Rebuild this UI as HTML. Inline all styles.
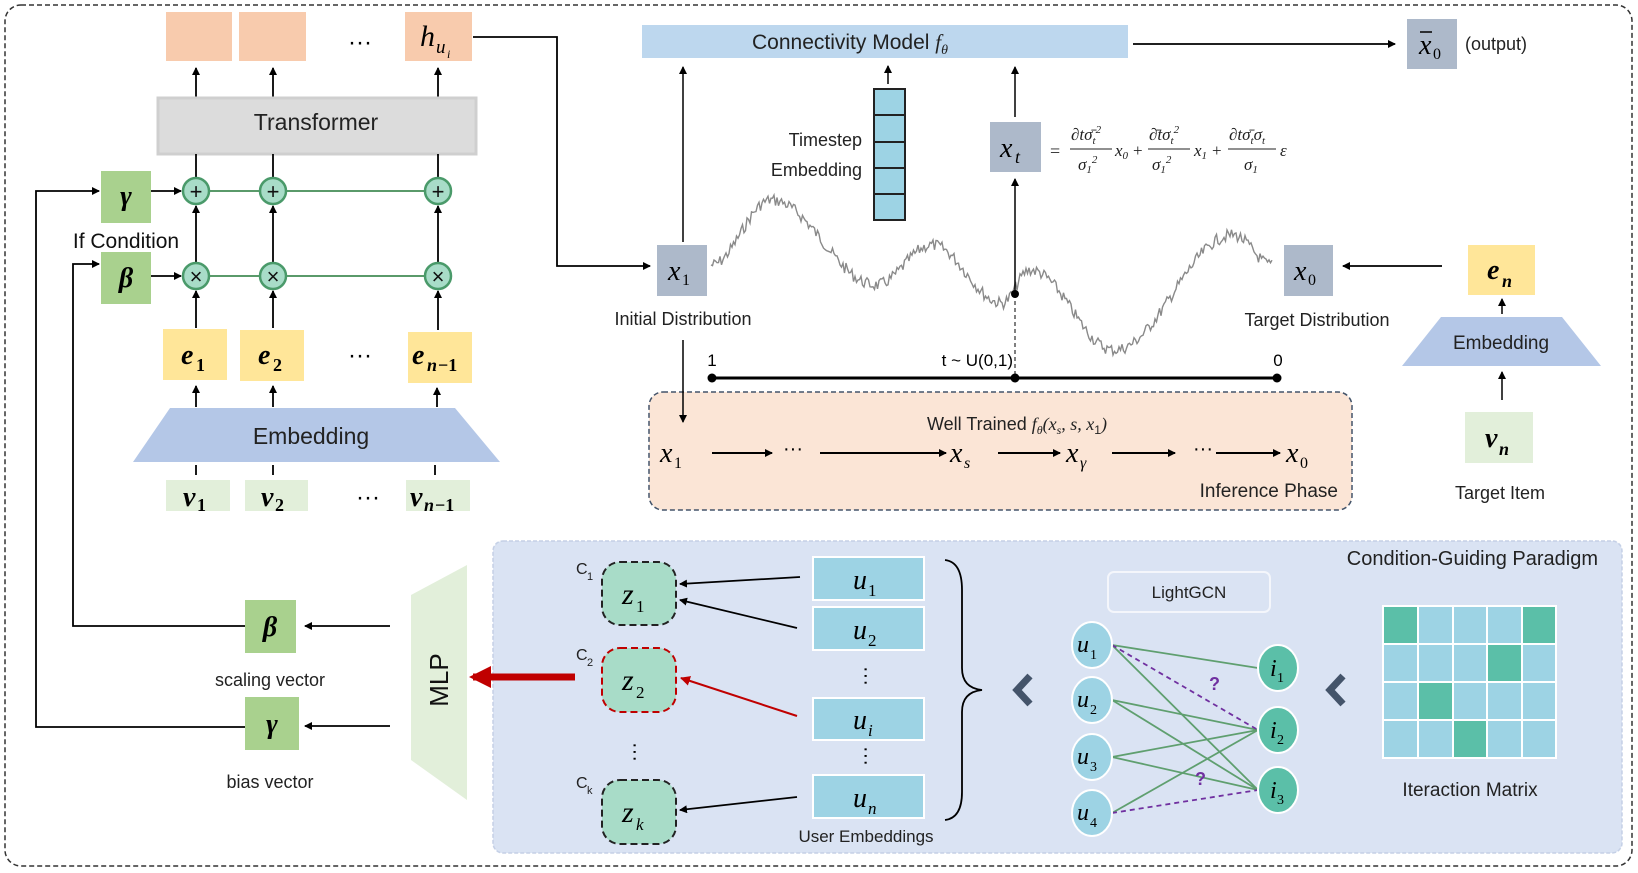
<!DOCTYPE html>
<html><head><meta charset="utf-8">
<style>
html,body{margin:0;padding:0;background:#fff;}
svg{display:block;font-family:"Liberation Sans",sans-serif;}
.m{font-family:"Liberation Serif",serif;font-style:italic;}
.b{font-weight:bold;}
</style></head><body>
<svg width="1638" height="873" viewBox="0 0 1638 873" xmlns="http://www.w3.org/2000/svg">
<defs>
<marker id="a" markerWidth="8" markerHeight="8" refX="7" refY="4" orient="auto" markerUnits="userSpaceOnUse"><path d="M0,0 L8,4 L0,8 z" fill="#000"/></marker>
<marker id="ar" markerWidth="10" markerHeight="10" refX="9" refY="5" orient="auto" markerUnits="userSpaceOnUse"><path d="M0,0 L10,5 L0,10 z" fill="#c00000"/></marker>
<marker id="ab" markerWidth="22" markerHeight="22" refX="18" refY="11" orient="auto" markerUnits="userSpaceOnUse"><path d="M0,0 L22,11 L0,22 z" fill="#c00000"/></marker>
</defs>
<rect x="5" y="5" width="1627" height="861" rx="16" fill="none" stroke="#333" stroke-width="1.5" stroke-dasharray="5,3"/>

<!-- top orange outputs -->
<rect x="166" y="12" width="66" height="49" fill="#f8cbad"/>
<rect x="239" y="12" width="67" height="49" fill="#f8cbad"/>
<text x="360" y="50" font-size="24" text-anchor="middle">···</text>
<rect x="405" y="12" width="67" height="49" fill="#f8cbad"/>
<text x="420" y="46" class="m" font-size="30">h</text><text x="436" y="53" class="m" font-size="19">u</text><text x="447" y="58" class="m" font-size="12">i</text>
<polyline points="473,37 557,37 557,266 650,266" fill="none" stroke="#000" stroke-width="1.8" marker-end="url(#a)"/>
<g stroke="#000" stroke-width="1.8" marker-end="url(#a)">
<line x1="196" y1="97" x2="196" y2="68"/><line x1="273" y1="97" x2="273" y2="68"/><line x1="438" y1="97" x2="438" y2="68"/>
</g>
<rect x="158" y="98" width="318" height="56" fill="#dcdcdc" stroke="#cfcfcf" stroke-width="3"/>
<text x="316" y="130" font-size="23" text-anchor="middle" fill="#222">Transformer</text>

<g stroke="#000" stroke-width="1.8">
<line x1="196" y1="154" x2="196" y2="178"/><line x1="273" y1="154" x2="273" y2="178"/><line x1="438" y1="154" x2="438" y2="178"/>
</g>
<g stroke="#000" stroke-width="1.8" marker-end="url(#a)">
<line x1="196" y1="263" x2="196" y2="206"/><line x1="273" y1="263" x2="273" y2="206"/><line x1="438" y1="263" x2="438" y2="206"/>
<line x1="196" y1="328" x2="196" y2="291"/><line x1="273" y1="328" x2="273" y2="291"/><line x1="438" y1="330" x2="438" y2="291"/>
<line x1="151" y1="191" x2="181" y2="191"/><line x1="151" y1="276" x2="181" y2="276"/>
</g>
<line x1="196" y1="191" x2="438" y2="191" stroke="#5a9a6a" stroke-width="2"/>
<line x1="196" y1="276" x2="438" y2="276" stroke="#5a9a6a" stroke-width="2"/>
<g fill="#a8dcc8" stroke="#4a9a6a" stroke-width="2.5">
<circle cx="196" cy="191" r="13"/><circle cx="273" cy="191" r="13"/><circle cx="438" cy="191" r="13"/>
<circle cx="196" cy="276" r="13"/><circle cx="273" cy="276" r="13"/><circle cx="438" cy="276" r="13"/>
</g>
<g font-size="22" text-anchor="middle" fill="#111">
<text x="196" y="199">+</text><text x="273" y="199">+</text><text x="438" y="199">+</text>
<text x="196" y="284">×</text><text x="273" y="284">×</text><text x="438" y="284">×</text>
</g>
<rect x="101" y="171" width="50" height="52" fill="#a9d18e"/>
<text x="126" y="205" class="m b" font-size="28" text-anchor="middle">γ</text>
<text x="126" y="248" font-size="21" text-anchor="middle" fill="#111">If Condition</text>
<rect x="101" y="252" width="50" height="52" fill="#a9d18e"/>
<text x="126" y="287" class="m b" font-size="28" text-anchor="middle">β</text>

<rect x="163" y="329" width="64" height="51" fill="#ffe699"/>
<rect x="240" y="330" width="64" height="51" fill="#ffe699"/>
<rect x="408" y="332" width="64" height="51" fill="#ffe699"/>
<g class="m b" font-size="28"><text x="181" y="364">e</text><text x="258" y="364">e</text><text x="412" y="364">e</text></g>
<g class="b" font-size="18" font-family="Liberation Serif"><text x="196" y="371">1</text><text x="273" y="371">2</text><text x="427" y="371" class="m">n</text><text x="438" y="371">−1</text></g>
<text x="360" y="363" font-size="24" text-anchor="middle">···</text>
<g stroke="#000" stroke-width="1.8" marker-end="url(#a)">
<line x1="196" y1="407" x2="196" y2="386"/><line x1="273" y1="407" x2="273" y2="386"/><line x1="437" y1="407" x2="437" y2="388"/>
</g>
<polygon points="170,408 455,408 500,462 133,462" fill="#b4c7e7"/>
<text x="311" y="444" font-size="23" text-anchor="middle" fill="#222">Embedding</text>
<g stroke="#000" stroke-width="1.8"><line x1="196" y1="465" x2="196" y2="475"/><line x1="273" y1="465" x2="273" y2="475"/><line x1="435" y1="465" x2="435" y2="475"/></g>
<rect x="166" y="480" width="64" height="31" fill="#e2efda"/>
<rect x="245" y="480" width="63" height="31" fill="#e2efda"/>
<rect x="406" y="480" width="64" height="31" fill="#e2efda"/>
<g class="m b" font-size="28"><text x="183" y="506">v</text><text x="261" y="506">v</text><text x="410" y="506">v</text></g>
<g class="b" font-size="18" font-family="Liberation Serif"><text x="197" y="511">1</text><text x="275" y="511">2</text><text x="424" y="511" class="m">n</text><text x="435" y="511">−1</text></g>
<text x="368" y="505" font-size="24" text-anchor="middle">···</text>

<polyline points="245,727 36,727 36,191 99,191" fill="none" stroke="#000" stroke-width="1.8" marker-end="url(#a)"/>
<polyline points="245,626 73,626 73,264 99,264" fill="none" stroke="#000" stroke-width="1.8" marker-end="url(#a)"/>
<rect x="245" y="600" width="51" height="53" fill="#a9d18e"/>
<text x="270" y="636" class="m b" font-size="28" text-anchor="middle">β</text>
<text x="270" y="686" font-size="18" text-anchor="middle" fill="#222">scaling vector</text>
<rect x="245" y="697" width="54" height="53" fill="#a9d18e"/>
<text x="272" y="733" class="m b" font-size="28" text-anchor="middle">γ</text>
<text x="270" y="788" font-size="18" text-anchor="middle" fill="#222">bias vector</text>
<g stroke="#000" stroke-width="1.8" marker-end="url(#a)"><line x1="390" y1="626" x2="305" y2="626"/><line x1="390" y1="726" x2="305" y2="726"/></g>
<polygon points="467,565 467,800 411,760 411,595" fill="#e2efda"/>
<text x="0" y="0" font-size="26" text-anchor="middle" transform="translate(448,680) rotate(-90)" fill="#111">MLP</text>

<rect x="493" y="541" width="1129" height="312" rx="10" fill="#dae3f3" stroke="#c5d0e6" stroke-width="1.5" stroke-dasharray="4,2"/>
<line x1="575" y1="677" x2="473" y2="677" stroke="#c00000" stroke-width="7" marker-end="url(#ab)"/>
<text x="1598" y="565" font-size="20" text-anchor="end" fill="#222">Condition-Guiding Paradigm</text>
<g fill="#a8dcc8" stroke-width="2" stroke-dasharray="7,4">
<rect x="602" y="562" width="74" height="63" rx="18" stroke="#222"/>
<rect x="602" y="648" width="74" height="64" rx="18" stroke="#c00000"/>
<rect x="602" y="780" width="74" height="64" rx="18" stroke="#222"/>
</g>
<g font-size="16" fill="#222"><text x="576" y="574">C</text><text x="587" y="580" font-size="11">1</text><text x="576" y="660">C</text><text x="587" y="666" font-size="11">2</text><text x="576" y="788">C</text><text x="587" y="794" font-size="11">k</text></g>
<g class="m" font-size="30"><text x="622" y="604">z</text><text x="622" y="690">z</text><text x="622" y="822">z</text></g>
<g class="m" font-size="17"><text x="636" y="612" font-style="normal">1</text><text x="636" y="698" font-style="normal">2</text><text x="636" y="830">k</text></g>
<text x="637" y="760" font-size="20" text-anchor="middle" transform="rotate(90 637 752)">···</text>

<g fill="#9dd3e4" stroke="#fff" stroke-width="2">
<rect x="813" y="557" width="111" height="43"/><rect x="813" y="607" width="111" height="43"/>
<rect x="813" y="698" width="111" height="42"/><rect x="813" y="775" width="111" height="43"/>
</g>
<g class="m" font-size="28"><text x="853" y="589">u</text><text x="853" y="639">u</text><text x="853" y="729">u</text><text x="853" y="807">u</text></g>
<g font-family="Liberation Serif" font-size="17"><text x="868" y="596">1</text><text x="868" y="646">2</text><text x="868" y="736" font-style="italic">i</text><text x="868" y="814" font-style="italic">n</text></g>
<text x="866" y="682" font-size="20" text-anchor="middle" transform="rotate(90 866 676)">···</text>
<text x="866" y="762" font-size="20" text-anchor="middle" transform="rotate(90 866 756)">···</text>
<text x="866" y="842" font-size="17" text-anchor="middle" fill="#222">User Embeddings</text>
<g stroke="#000" stroke-width="1.8" marker-end="url(#a)">
<line x1="800" y1="577" x2="680" y2="584"/><line x1="797" y1="628" x2="680" y2="600"/><line x1="797" y1="797" x2="680" y2="810"/>
</g>
<line x1="797" y1="716" x2="681" y2="678" stroke="#c00000" stroke-width="2" marker-end="url(#ar)"/>
<path d="M945,560 Q962,562 962,590 L962,668 Q962,688 982,690 Q962,692 962,712 L962,792 Q962,818 945,820" fill="none" stroke="#000" stroke-width="1.8"/>
<path d="M1030,676 L1017,690 L1030,704" fill="none" stroke="#44546a" stroke-width="7"/>
<path d="M1343,676 L1330,690 L1343,704" fill="none" stroke="#44546a" stroke-width="7"/>
<rect x="1108" y="572" width="162" height="40" rx="6" fill="#dae3f3" stroke="#f4f6fb" stroke-width="2"/>
<text x="1189" y="598" font-size="17" text-anchor="middle" fill="#222">LightGCN</text>
<g stroke="#5f9f6f" stroke-width="1.8">
<line x1="1112" y1="645" x2="1258" y2="668"/><line x1="1112" y1="645" x2="1258" y2="790"/>
<line x1="1112" y1="700" x2="1258" y2="730"/><line x1="1112" y1="700" x2="1258" y2="790"/>
<line x1="1112" y1="757" x2="1258" y2="730"/><line x1="1112" y1="757" x2="1258" y2="790"/>
<line x1="1112" y1="813" x2="1258" y2="730"/>
</g>
<g stroke="#7030a0" stroke-width="1.8" stroke-dasharray="5,4"><line x1="1112" y1="645" x2="1258" y2="730"/><line x1="1112" y1="813" x2="1258" y2="790"/></g>
<g fill="#7030a0" font-size="18" font-weight="bold"><text x="1209" y="690">?</text><text x="1195" y="785">?</text></g>
<g fill="#9dd3e4" stroke="#fff" stroke-width="2">
<ellipse cx="1092" cy="645" rx="20" ry="23"/><ellipse cx="1092" cy="700" rx="20" ry="23"/><ellipse cx="1092" cy="757" rx="20" ry="23"/><ellipse cx="1092" cy="813" rx="20" ry="23"/>
</g>
<g fill="#5bbfa8" stroke="#fff" stroke-width="2">
<ellipse cx="1278" cy="668" rx="20" ry="23"/><ellipse cx="1278" cy="730" rx="20" ry="23"/><ellipse cx="1278" cy="790" rx="20" ry="23"/>
</g>
<g class="m" font-size="24"><text x="1077" y="652">u</text><text x="1077" y="707">u</text><text x="1077" y="764">u</text><text x="1077" y="820">u</text>
<text x="1270" y="676">i</text><text x="1270" y="738">i</text><text x="1270" y="798">i</text></g>
<g font-family="Liberation Serif" font-size="14"><text x="1090" y="659">1</text><text x="1090" y="714">2</text><text x="1090" y="771">3</text><text x="1090" y="827">4</text>
<text x="1277" y="682">1</text><text x="1277" y="744">2</text><text x="1277" y="804">3</text></g>
<g stroke="#fff" stroke-width="2">
<rect x="1383" y="606" width="35" height="38" fill="#5bbfa8"/><rect x="1418" y="606" width="35" height="38" fill="#9dd3e4"/><rect x="1453" y="606" width="34" height="38" fill="#9dd3e4"/><rect x="1487" y="606" width="35" height="38" fill="#9dd3e4"/><rect x="1522" y="606" width="34" height="38" fill="#5bbfa8"/>
<rect x="1383" y="644" width="35" height="38" fill="#9dd3e4"/><rect x="1418" y="644" width="35" height="38" fill="#9dd3e4"/><rect x="1453" y="644" width="34" height="38" fill="#9dd3e4"/><rect x="1487" y="644" width="35" height="38" fill="#5bbfa8"/><rect x="1522" y="644" width="34" height="38" fill="#9dd3e4"/>
<rect x="1383" y="682" width="35" height="38" fill="#9dd3e4"/><rect x="1418" y="682" width="35" height="38" fill="#5bbfa8"/><rect x="1453" y="682" width="34" height="38" fill="#9dd3e4"/><rect x="1487" y="682" width="35" height="38" fill="#9dd3e4"/><rect x="1522" y="682" width="34" height="38" fill="#9dd3e4"/>
<rect x="1383" y="720" width="35" height="38" fill="#9dd3e4"/><rect x="1418" y="720" width="35" height="38" fill="#9dd3e4"/><rect x="1453" y="720" width="34" height="38" fill="#5bbfa8"/><rect x="1487" y="720" width="35" height="38" fill="#9dd3e4"/><rect x="1522" y="720" width="34" height="38" fill="#9dd3e4"/>
</g>
<text x="1470" y="796" font-size="19" text-anchor="middle" fill="#222">Iteraction Matrix</text>

<rect x="642" y="25" width="486" height="33" fill="#bdd7ee"/>
<text x="850" y="49" font-size="21" text-anchor="middle" fill="#222">Connectivity Model <tspan class="m">f</tspan><tspan class="m" font-size="14" dy="5">θ</tspan></text>
<line x1="1133" y1="44" x2="1395" y2="44" stroke="#000" stroke-width="1.8" marker-end="url(#a)"/>
<rect x="1407" y="19" width="50" height="50" fill="#adb9ca"/>
<text x="1419" y="54" class="m" font-size="28">x</text><text x="1433" y="59" font-family="Liberation Serif" font-size="16">0</text>
<line x1="1420" y1="32" x2="1432" y2="32" stroke="#000" stroke-width="1.5"/>
<text x="1465" y="50" font-size="18" fill="#222">(output)</text>

<path id="wave" d="" fill="none" stroke="#8a8a8a" stroke-width="1.4"/>

<rect x="657" y="245" width="50" height="51" fill="#adb9ca"/>
<text x="668" y="280" class="m" font-size="28">x</text><text x="682" y="285" font-family="Liberation Serif" font-size="16">1</text>
<line x1="683" y1="242" x2="683" y2="67" stroke="#000" stroke-width="1.5" marker-end="url(#a)"/>
<g fill="#9dd3e4" stroke="#222" stroke-width="2">
<rect x="874" y="89" width="31" height="26"/><rect x="874" y="115" width="31" height="27"/><rect x="874" y="142" width="31" height="26"/><rect x="874" y="168" width="31" height="26"/><rect x="874" y="194" width="31" height="26"/>
</g>
<line x1="888" y1="84" x2="888" y2="66" stroke="#000" stroke-width="1.5" marker-end="url(#a)"/>
<text x="862" y="146" font-size="18" text-anchor="end" fill="#222">Timestep</text>
<text x="862" y="176" font-size="18" text-anchor="end" fill="#222">Embedding</text>
<rect x="990" y="122" width="51" height="50" fill="#adb9ca"/>
<text x="1000" y="157" class="m" font-size="28">x</text><text x="1015" y="163" class="m" font-size="18">t</text>
<line x1="1015" y1="117" x2="1015" y2="67" stroke="#000" stroke-width="1.5" marker-end="url(#a)"/>
<line x1="1015" y1="293" x2="1015" y2="179" stroke="#000" stroke-width="1.5" marker-end="url(#a)"/>
<g font-family="Liberation Serif" font-style="italic" font-size="17" fill="#222">
<text x="1050" y="157" font-style="normal" font-size="18">=</text>
<text x="1071" y="140">∂tσ̄<tspan font-size="11" dy="4">t</tspan><tspan font-size="11" dy="-11">2</tspan></text>
<line x1="1070" y1="149" x2="1112" y2="149" stroke="#222"/>
<text x="1078" y="170">σ<tspan font-size="11" dy="3">1</tspan><tspan font-size="11" dy="-10">2</tspan></text>
<text x="1115" y="156">x<tspan font-size="11" dy="3">0</tspan></text>
<text x="1133" y="156" font-style="normal">+</text>
<text x="1149" y="140">∂̄tσ<tspan font-size="11" dy="4">t</tspan><tspan font-size="11" dy="-11">2</tspan></text>
<line x1="1148" y1="149" x2="1190" y2="149" stroke="#222"/>
<text x="1152" y="170">σ<tspan font-size="11" dy="3">1</tspan><tspan font-size="11" dy="-10">2</tspan></text>
<text x="1194" y="156">x<tspan font-size="11" dy="3">1</tspan></text>
<text x="1212" y="156" font-style="normal">+</text>
<text x="1229" y="140">∂tσ̄<tspan font-size="11" dy="4">t</tspan><tspan dy="-4">σ</tspan><tspan font-size="11" dy="4">t</tspan></text>
<line x1="1228" y1="149" x2="1276" y2="149" stroke="#222"/>
<text x="1244" y="170">σ<tspan font-size="11" dy="3">1</tspan></text>
<text x="1280" y="156">ε</text>
</g>
<rect x="1284" y="245" width="49" height="51" fill="#adb9ca"/>
<text x="1294" y="280" class="m" font-size="28">x</text><text x="1308" y="285" font-family="Liberation Serif" font-size="16">0</text>
<line x1="1442" y1="266" x2="1343" y2="266" stroke="#000" stroke-width="1.8" marker-end="url(#a)"/>
<text x="683" y="325" font-size="18" text-anchor="middle" fill="#222">Initial Distribution</text>
<text x="1317" y="326" font-size="18" text-anchor="middle" fill="#222">Target Distribution</text>
<circle cx="1015" cy="294" r="4"/>
<line x1="1015" y1="294" x2="1015" y2="378" stroke="#000" stroke-width="1" stroke-dasharray="4,3"/>
<line x1="712" y1="378" x2="1277" y2="378" stroke="#000" stroke-width="3"/>
<circle cx="712" cy="378" r="4.5"/><circle cx="1015" cy="378" r="4.5"/><circle cx="1277" cy="378" r="4.5"/>
<text x="712" y="366" font-size="17" text-anchor="middle">1</text>
<text x="1278" y="366" font-size="17" text-anchor="middle">0</text>
<text x="1013" y="366" font-size="17" text-anchor="end">t ~ U(0,1)</text>
<rect x="649" y="392" width="703" height="118" rx="14" fill="#fbe5d6" stroke="#44546a" stroke-width="1.5" stroke-dasharray="5,3"/>
<line x1="683" y1="340" x2="683" y2="422" stroke="#000" stroke-width="1.5" marker-end="url(#a)"/>
<text x="1017" y="430" font-size="18" text-anchor="middle" fill="#222">Well Trained <tspan class="m">f</tspan><tspan class="m" font-size="12" dy="4">θ</tspan><tspan class="m" dy="-4">(x</tspan><tspan class="m" font-size="12" dy="4">s</tspan><tspan class="m" dy="-4">, s, x</tspan><tspan font-size="12" dy="4">1</tspan><tspan dy="-4" class="m">)</tspan></text>
<g class="m" font-size="28">
<text x="660" y="462">x</text><text x="950" y="462">x</text><text x="1066" y="462">x</text><text x="1286" y="462">x</text>
</g>
<g font-family="Liberation Serif" font-size="16"><text x="674" y="468">1</text><text x="964" y="468" font-style="italic">s</text><text x="1080" y="468" font-style="italic">γ</text><text x="1300" y="468">0</text></g>
<g font-size="20"><text x="783" y="455">···</text><text x="1193" y="455">···</text></g>
<g stroke="#000" stroke-width="2" marker-end="url(#a)">
<line x1="712" y1="453" x2="772" y2="453"/><line x1="820" y1="453" x2="946" y2="453"/><line x1="998" y1="453" x2="1060" y2="453"/><line x1="1112" y1="453" x2="1175" y2="453"/><line x1="1216" y1="453" x2="1280" y2="453"/>
</g>
<text x="1338" y="497" font-size="19" text-anchor="end" fill="#222">Inference Phase</text>

<rect x="1468" y="245" width="67" height="50" fill="#ffe699"/>
<text x="1487" y="279" class="m b" font-size="28">e</text><text x="1502" y="287" class="m b" font-size="18" font-family="Liberation Serif">n</text>
<line x1="1502" y1="314" x2="1502" y2="299" stroke="#000" stroke-width="1.5" marker-end="url(#a)"/>
<polygon points="1441,317 1562,317 1601,366 1402,366" fill="#b4c7e7"/>
<text x="1501" y="349" font-size="19" text-anchor="middle" fill="#222">Embedding</text>
<line x1="1502" y1="400" x2="1502" y2="372" stroke="#000" stroke-width="1.5" marker-end="url(#a)"/>
<rect x="1465" y="412" width="68" height="51" fill="#e2efda"/>
<text x="1485" y="447" class="m b" font-size="28">v</text><text x="1499" y="455" class="m b" font-size="18" font-family="Liberation Serif">n</text>
<text x="1500" y="499" font-size="18" text-anchor="middle" fill="#222">Target Item</text>
</svg>
<script>
(function(){
var pts=[[711,265],[771,200],[876,285],[932,245],[1002,303],[1030,270],[1114,350],[1233,235],[1272,265]];
var seed=7;function r(){seed=(seed*9301+49297)%233280;return seed/233280-0.5;}
var d="";
for(var x=711;x<=1272;x+=1.5){
 var i=0;while(i<pts.length-2&&x>pts[i+1][0])i++;
 var a=pts[i],b=pts[i+1];var t=(x-a[0])/(b[0]-a[0]);t=(1-Math.cos(Math.PI*t))/2;
 var y=a[1]+(b[1]-a[1])*t+r()*12;
 d+=(d?"L":"M")+x.toFixed(1)+","+y.toFixed(1);
}
document.getElementById("wave").setAttribute("d",d);
})();
</script>
</body></html>
